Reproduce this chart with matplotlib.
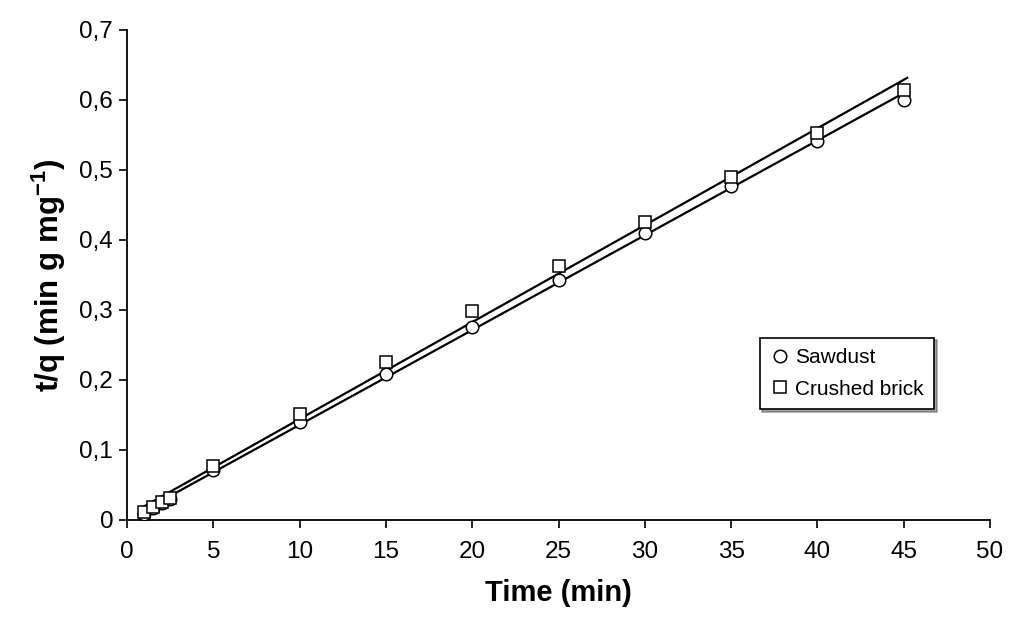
import numpy as np
import matplotlib.pyplot as plt
from matplotlib.ticker import FuncFormatter

plt.rcParams['font.family'] = ['Liberation Sans', 'DejaVu Sans']
plt.rcParams['mathtext.fontset'] = 'custom'
plt.rcParams['mathtext.bf'] = 'Liberation Sans:bold'
plt.rcParams['mathtext.rm'] = 'Liberation Sans'

# Datos
tiempo = [1, 1.5, 2, 2.5, 5, 10, 15, 20, 25, 30, 35, 40, 45]
tq_aserrin = [0.009, 0.017, 0.024, 0.030, 0.072, 0.140, 0.209, 0.276, 0.343, 0.410, 0.477, 0.541, 0.600]
tq_ladrillo = [0.012, 0.019, 0.026, 0.031, 0.077, 0.152, 0.226, 0.299, 0.363, 0.425, 0.490, 0.553, 0.614]

fig = plt.figure(figsize=(10.27, 6.24), dpi=100)
ax = fig.add_axes([0.1237, 0.1667, 0.8403, 0.7853])

# Rectas de ajuste lineal
t = np.array(tiempo)
for serie in [tq_aserrin, tq_ladrillo]:
    m, b = np.polyfit(t, serie, 1)
    xs = np.array([0.8, 45.2])
    ax.plot(xs, m * xs + b, color='black', linewidth=1.6, zorder=2)

ax.plot(tiempo, tq_aserrin, linestyle='none', marker='o', markersize=9,
        markerfacecolor='white', markeredgecolor='black', markeredgewidth=1.1,
        label='Sawdust', zorder=3)
ax.plot(tiempo, tq_ladrillo, linestyle='none', marker='s', markersize=9,
        markerfacecolor='white', markeredgecolor='black', markeredgewidth=1.1,
        label='Crushed brick', zorder=3)

ax.set_xlim(0, 50)
ax.set_ylim(0, 0.7)
ax.set_xticks(range(0, 51, 5))
ax.set_yticks(np.arange(0, 0.71, 0.1))
ax.yaxis.set_major_formatter(FuncFormatter(lambda v, p: '0' if abs(v) < 1e-9 else f'{v:.1f}'.replace('.', ',')))

ax.spines['top'].set_visible(False)
ax.spines['right'].set_visible(False)
ax.spines['left'].set_linewidth(1.3)
ax.spines['bottom'].set_linewidth(1.3)
ax.tick_params(direction='out', length=6, width=1.2, labelsize=17.5, colors='black')
ax.tick_params(axis='x', pad=9)
ax.tick_params(axis='y', pad=4)

ax.set_xlabel('Time (min)', fontsize=21, fontweight='bold', labelpad=12)
ax.set_ylabel(r't/q (min g mg$^{\mathbf{-1}}$)', fontsize=22.5, fontweight='bold', labelpad=8)

leg = ax.legend(loc='upper left', bbox_to_anchor=(0.733, 0.372), fontsize=15,
                frameon=True, fancybox=False, shadow=True, handletextpad=0.2,
                handlelength=1.0, borderpad=0.5, labelspacing=0.6, borderaxespad=0)
leg.get_frame().set_edgecolor('black')
leg.get_frame().set_linewidth(1.2)

fig.savefig('out.png', dpi=100)
